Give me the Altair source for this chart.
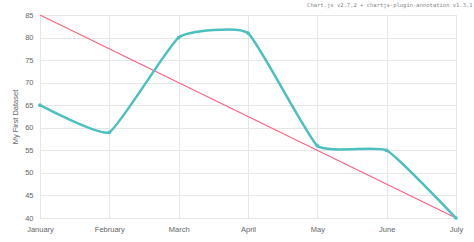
import altair as alt
import pandas as pd

months = ["January", "February", "March", "April", "May", "June", "July"]
dataset_values = [65, 59, 80, 81, 56, 55, 40]
annot_months = ["January", "July"]
annot_values = [85, 40]
y_ticks = [40, 45, 50, 55, 60, 65, 70, 75, 80, 85]

df = pd.DataFrame({"month": months, "value": dataset_values})
adf = pd.DataFrame({"month": annot_months, "value": annot_values})

FONT = "Liberation Sans"
GRID = "#e6e6e6"

x = alt.X("month:N", sort=months,
          scale=alt.Scale(type="point", padding=0, domain=months),
          axis=alt.Axis(title=None, labelAngle=0, grid=True, gridColor=GRID,
                        domain=False, ticks=False, labelPadding=7,
                        labelFont=FONT, labelFontSize=7.5, labelColor="#666"))
y = alt.Y("value:Q", scale=alt.Scale(domain=[40, 85], nice=False, zero=False),
          axis=alt.Axis(title="My First Dataset", values=y_ticks, grid=True, gridColor=GRID,
                        domain=False, ticks=False, labelPadding=7,
                        labelFont=FONT, labelFontSize=7.5, labelColor="#666",
                        titleFont=FONT, titleFontSize=7.5, titleColor="#666",
                        titleFontWeight="normal", titlePadding=5))

line = alt.Chart(df).mark_line(color="#4bc0c0", strokeWidth=2.5, interpolate="cardinal",
                               tension=0.6).encode(x=x, y=y)
pts = alt.Chart(df).mark_point(color="#4bc0c0", filled=True, size=14, opacity=1).encode(x=x, y=y)
annot = alt.Chart(adf).mark_line(color="#ff6384", strokeWidth=1.3).encode(x=x, y=y)

chart = alt.layer(annot, line, pts).properties(
    width=416, height=203,
    title=alt.TitleParams("Chart.js v2.7.2 + chartjs-plugin-annotation v1.3.1",
                          anchor="end", fontSize=5.5, font="DejaVu Sans Mono",
                          color="#888", fontWeight="normal", offset=3, dx=10),
    autosize=alt.AutoSizeParams(type="none"),
    padding={"left": 40, "top": 15, "right": 18, "bottom": 24},
).configure_view(stroke=None).configure(background="white")

chart.save("out.html", embed_options={"renderer": "svg", "actions": False})
